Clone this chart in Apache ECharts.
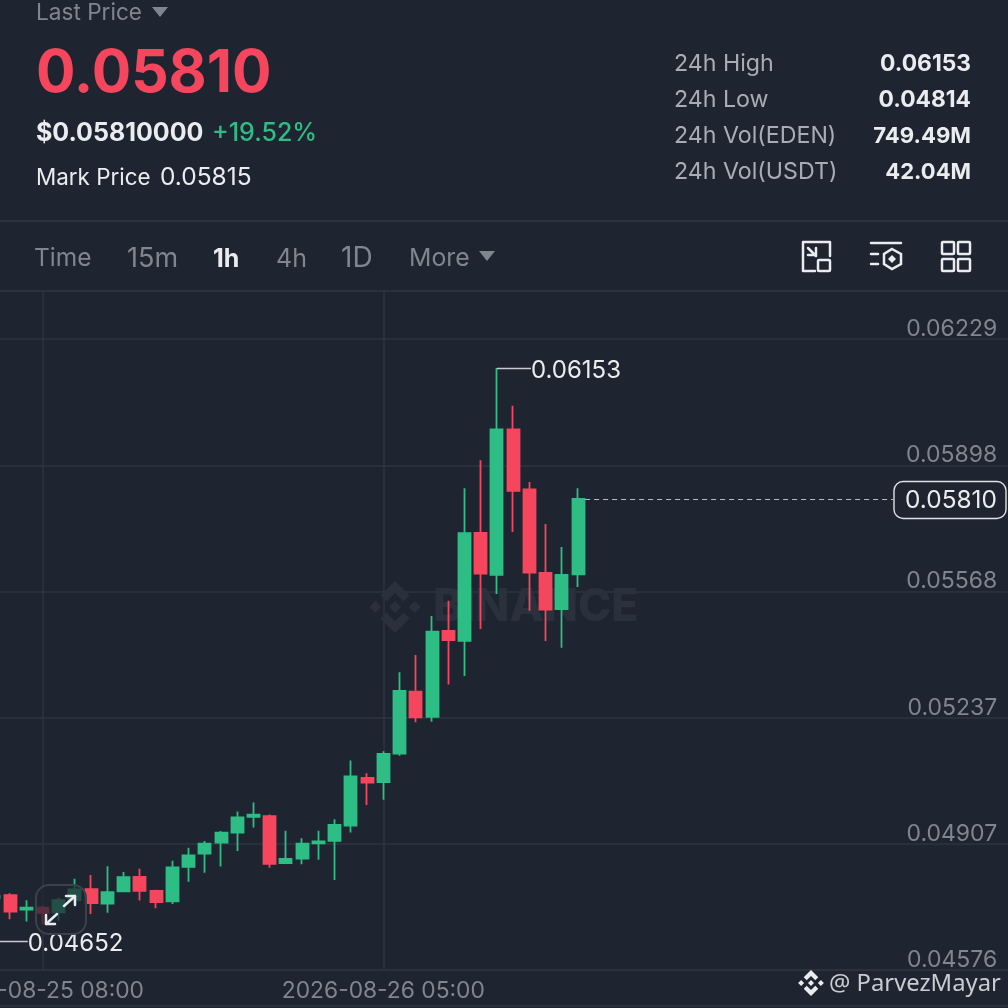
<!DOCTYPE html>
<html><head><meta charset="utf-8">
<style>html,body{margin:0;padding:0;background:#1f2530}#c{width:1008px;height:1008px}</style>
<script src="https://cdn.jsdelivr.net/npm/echarts@6/dist/echarts.min.js"></script>
</head><body><div id="c"></div>
<script>
var categories = ["2026-08-25 05:00","2026-08-25 06:00","2026-08-25 07:00","2026-08-25 08:00","2026-08-25 09:00","2026-08-25 10:00","2026-08-25 11:00","2026-08-25 12:00","2026-08-25 13:00","2026-08-25 14:00","2026-08-25 15:00","2026-08-25 16:00","2026-08-25 17:00","2026-08-25 18:00","2026-08-25 19:00","2026-08-25 20:00","2026-08-25 21:00","2026-08-25 22:00","2026-08-25 23:00","2026-08-26 00:00","2026-08-26 01:00","2026-08-26 02:00","2026-08-26 03:00","2026-08-26 04:00","2026-08-26 05:00","2026-08-26 06:00","2026-08-26 07:00","2026-08-26 08:00","2026-08-26 09:00","2026-08-26 10:00","2026-08-26 11:00","2026-08-26 12:00","2026-08-26 13:00","2026-08-26 14:00","2026-08-26 15:00","2026-08-26 16:00","2026-08-26 17:00","2026-08-26 18:00","2026-08-26 19:00","2026-08-26 20:00","2026-08-26 21:00","2026-08-26 22:00","2026-08-26 23:00","2026-08-27 00:00","2026-08-27 01:00","2026-08-27 02:00","2026-08-27 03:00","2026-08-27 04:00","2026-08-27 05:00","2026-08-27 06:00","2026-08-27 07:00","2026-08-27 08:00","2026-08-27 09:00","2026-08-27 10:00","2026-08-27 11:00","2026-08-27 12:00","2026-08-27 13:00","2026-08-27 14:00","2026-08-27 15:00","2026-08-27 16:00","2026-08-27 17:00","2026-08-27 18:00","2026-08-27 19:00"];
var opens  = [.04765,.04772,.04734,.04739,.04727,.04759,.04788,.04750,.04782,.04820,.04783,.04756,.04846,.04881,.04910,.04936,.04977,.04979,.04856,.04868,.04908,.04914,.04954,.05079,.05068,.05143,.05305,.05239,.05464,.05438,.05721,.05611,.05992,.05835,.05616,.05521,.05612];
var closes = [.04770,.04729,.04739,.04726,.04759,.04787,.04751,.04780,.04819,.04783,.04754,.04845,.04876,.04907,.04936,.04976,.04983,.04854,.04867,.04907,.04913,.04956,.05083,.05067,.05142,.05307,.05238,.05462,.05440,.05720,.05614,.05992,.05831,.05617,.05520,.05611,.05810];
var lows   = [.04759,.04709,.04703,.04696,.04705,.04752,.04723,.04726,.04782,.04758,.04738,.04749,.04807,.04831,.04847,.04888,.04949,.04844,.04856,.04853,.04865,.04812,.04936,.05008,.05022,.05137,.05225,.05226,.05324,.05346,.05469,.05561,.05723,.05517,.05438,.05420,.05579];
var highs  = [.04775,.04777,.04759,.04745,.04765,.04815,.04825,.04848,.04833,.04841,.04786,.04862,.04896,.04914,.04940,.04991,.05015,.04983,.04941,.04921,.04941,.04971,.05125,.05091,.05149,.05356,.05401,.05503,.05543,.05838,.05911,.06153,.06054,.05854,.05744,.05684,.05838];
var yTicks = [0.04576,0.04907,0.05237,0.05568,0.05898,0.06229];
var xLabelIndexes = [3,24];
var highIndex = 31, highPrice = 0.06153;
var lowIndex = 0, lowPrice = 0.04652;
var lastIndex = 36, lastPrice = 0.05810;

var BG='#1f2530', LINE='#2c323d', GREY='#80868f', STAT='#a8adb5', WHITE='#eaecef', GREEN='#2ebd85', RED='#f6465d';
var FF='Inter, "Open Sans", sans-serif';
function t(text,x,y,size,fill,weight,align,family,z){
  return {type:'text',z:z||50,style:{text:text,x:x,y:y,fill:fill,textAlign:align||'left',textVerticalAlign:'middle',
    font:(weight||400)+' '+size+'px '+(family||FF)}};
}
function poly(pts,fill,z){return {type:'polygon',z:z||50,shape:{points:pts},style:{fill:fill}};}
function pl(pts,stroke,w,z){return {type:'polyline',z:z||50,shape:{points:pts},style:{stroke:stroke,lineWidth:w,fill:null,lineCap:'round',lineJoin:'round'}};}
function box(x,y,w,h,r,stroke,lw,fill,z){return {type:'rect',z:z||50,shape:{x:x,y:y,width:w,height:h,r:r},style:{stroke:stroke,lineWidth:lw,fill:fill||null}};}
function hline(y){return {type:'rect',z:1,shape:{x:0,y:y-1,width:1008,height:2},style:{fill:LINE}};}
function logo(cx,cy,s,fill,z){
  var out=[];
  function d(x,y,r){out.push(poly([[cx+x*s,cy+(y-r)*s],[cx+(x+r)*s,cy+y*s],[cx+x*s,cy+(y+r)*s],[cx+(x-r)*s,cy+y*s]],fill,z));}
  d(0,0,0.23); d(-0.76,0,0.23); d(0.76,0,0.23);
  out.push(poly([[cx,cy-1*s],[cx+.56*s,cy-.44*s],[cx+.33*s,cy-.21*s],[cx,cy-.54*s],[cx-.33*s,cy-.21*s],[cx-.56*s,cy-.44*s]],fill,z));
  out.push(poly([[cx,cy+1*s],[cx+.56*s,cy+.44*s],[cx+.33*s,cy+.21*s],[cx,cy+.54*s],[cx-.33*s,cy+.21*s],[cx-.56*s,cy+.44*s]],fill,z));
  return out;
}
var graphics=[
  t('Last Price',36,13,22.6,GREY),
  poly([[152,7],[168,7],[160,17]],GREY),
  t('0.05810',36,74.5,58.6,RED,700),
  t('$0.05810000',36,133,25,WHITE,700),
  t('+19.52%',212,133,25,GREEN,500),
  t('Mark Price',36,178,22.4,WHITE),
  t('0.05815',160,178,24.5,WHITE),
  t('24h High',674,64,23.2,STAT),t('24h Low',674,100,23.2,STAT),t('24h Vol(EDEN)',674,136,23.2,STAT),t('24h Vol(USDT)',674,172,23.2,STAT),
  t('0.06153',971,64,22.8,WHITE,700,'right'),t('0.04814',971,100,22.8,WHITE,700,'right'),t('749.49M',971,136,22.2,WHITE,700,'right'),t('42.04M',971,172,22,WHITE,700,'right'),
  hline(221),hline(291),hline(1006),
  t('Time',34,259,24.5,GREY),t('15m',127,259,27,GREY),t('1h',213,259,25,WHITE,700),t('4h',276,259,25,GREY),t('1D',341,259,28,GREY),t('More',409,259,24.8,GREY),
  poly([[479,251],[495,251],[487,261]],GREY),
  // toolbar icons
  pl([[815,271],[803,271],[803,242],[830,242],[830,256]],WHITE,2.5),
  box(818,260,12,11,1,WHITE,2.5),
  pl([[808,248],[816,256]],WHITE,2.5),pl([[808,255],[816,255],[816,248]],WHITE,2.5),
  pl([[871,243],[901,243]],WHITE,2.5),pl([[871,254],[878,254]],WHITE,2.5),pl([[871,264],[878,264]],WHITE,2.5),
  {type:'polygon',z:50,shape:{points:[[892,249],[901,254],[901,264],[892,269],[884,264],[884,254]]},style:{stroke:WHITE,lineWidth:2.5,fill:null}},
  poly([[892,255],[896,259],[892,263],[888,259]],WHITE),
  box(942,242,12,12,1,WHITE,2.5),box(958,242,12,12,1,WHITE,2.5),box(942,259,12,12,1,WHITE,2.5),box(958,259,12,12,1,WHITE,2.5),
  // watermark (behind the candles)
  t('BINANCE',433,608,44.6,'#2b313c',800,'left',FF,1),
  // expand button
  box(36,885,50,49,13,'#3b414c',2,'rgba(31,37,48,0.72)',60),
  pl([[46,924],[57,914]],WHITE,2.5,61),pl([[46,915],[46,924],[55,924]],WHITE,2.5,61),
  pl([[64,906],[75,896]],WHITE,2.5,61),pl([[66,896],[75,896],[75,905]],WHITE,2.5,61),
  // credit
  t('@ ParvezMayar',829,984,23.8,'#c9ccd1',400,'left','"Noto Sans"')
].concat(logo(395,607,26,'#2b313c',1)).concat(logo(811,983,13,'#eaecef',50));

var candleData=opens.map(function(o,i){return [o,closes[i],lows[i],highs[i]];});
var notes=[[highIndex,highPrice,'high'],[lowIndex,lowPrice,'low'],[lastIndex,lastPrice,'last']];

var chart=echarts.init(document.getElementById('c'),null,{renderer:'canvas',width:1008,height:1008});
chart.setOption({
  animation:false,
  backgroundColor:BG,
  grid:{left:-14.3,top:292,width:1022.5,height:678,containLabel:false,outerBoundsMode:'none'},
  xAxis:{type:'category',data:categories,boundaryGap:true,
    axisLine:{show:true,lineStyle:{color:LINE,width:2}},
    axisTick:{show:false,alignWithLabel:true,interval:function(i){return xLabelIndexes.indexOf(i)>=0;}},
    splitLine:{show:true,alignWithLabel:true,interval:function(i){return xLabelIndexes.indexOf(i)>=0;},lineStyle:{color:'#2e343f',width:1.5}},
    axisLabel:{interval:function(i){return xLabelIndexes.indexOf(i)>=0;},color:GREY,fontFamily:FF,fontSize:22.8,margin:10,hideOverlap:false}
  },
  yAxis:{type:'value',position:'right',min:0.04576,max:0.063518,scale:true,
    axisLine:{show:false},
    axisTick:{show:false,customValues:yTicks},
    splitLine:{show:true,lineStyle:{color:'#2e343f',width:1.5}},
    axisLabel:{inside:true,customValues:yTicks,margin:11,color:GREY,fontFamily:FF,fontSize:23,verticalAlign:'bottom',padding:[0,0,-1.5,0],
      formatter:function(v){return v.toFixed(5);}}
  },
  series:[
    {type:'candlestick',data:candleData,barWidth:12.5,z:5,
      itemStyle:{color:GREEN,color0:RED,borderColor:GREEN,borderColor0:RED,borderWidth:1.8}},
    {type:'custom',z:20,clip:false,silent:true,data:notes,encode:{x:0,y:1},
      renderItem:function(p,api){
        var kind=notes[p.dataIndex][2];
        var c=api.coord([api.value(0),api.value(1)]);
        var x=c[0],y=Math.round(c[1])+0.5;
        var label=api.value(1).toFixed(5);
        if(kind==='last'){
          return {type:'group',children:[
            {type:'line',shape:{x1:x+7,y1:y,x2:893,y2:y},style:{stroke:'#b7bdc6',lineWidth:1.2,lineDash:[5,4]}},
            {type:'rect',shape:{x:894,y:y-18,width:112,height:37,r:9},style:{fill:BG,stroke:'#dfe1e4',lineWidth:1.4}},
            {type:'text',style:{text:label,x:951,y:y+1,fill:WHITE,textAlign:'center',textVerticalAlign:'middle',font:'400 24.4px '+FF}}
          ]};
        }
        return {type:'group',children:[
          {type:'line',shape:{x1:x,y1:y,x2:x+34,y2:y},style:{stroke:'#c7cbd1',lineWidth:1.5}},
          {type:'text',style:{text:label,x:x+34,y:y+2.5,fill:WHITE,textAlign:'left',textVerticalAlign:'middle',font:'400 24px '+FF}}
        ]};
      }}
  ],
  graphic:graphics
});
</script></body></html>
